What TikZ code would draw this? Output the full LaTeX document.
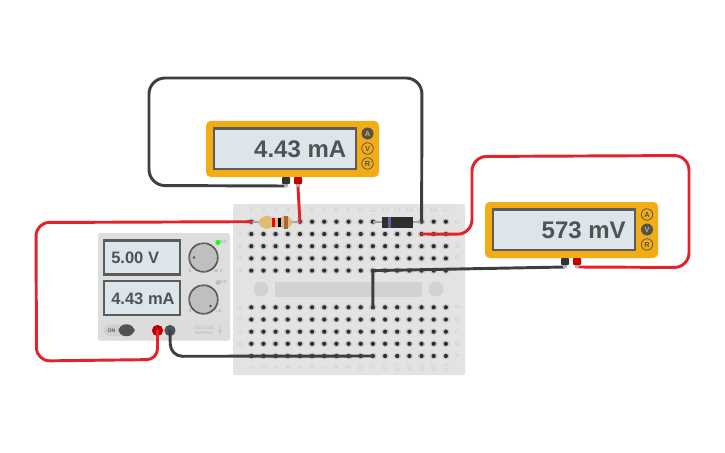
\documentclass[tikz,border=0pt]{standalone}
\usepackage{fontspec}
\setmainfont{Liberation Sans}
\definecolor{wred}{HTML}{E3222A}
\definecolor{wblack}{HTML}{3C3F42}
\definecolor{mmorange}{HTML}{F2AC16}
\definecolor{lcd}{HTML}{DCE5EA}
\definecolor{lcdframe}{HTML}{5A5C5E}
\definecolor{bbody}{HTML}{E3E3E3}
\definecolor{bmark}{HTML}{CDCDCD}
\definecolor{psu}{HTML}{DEDEDE}
\definecolor{txt}{HTML}{505356}
\definecolor{rbody}{HTML}{DDBB7E}
\tikzset{
 wirer/.style={draw=wred,line width=2.2pt,line cap=round},
 wireb/.style={draw=wblack,line width=2.2pt,line cap=round},
 lcdbox/.style={draw=lcdframe,line width=1.8pt,fill=lcd,inner sep=0pt},
 readout/.style={font=\bfseries\fontsize{18}{18}\selectfont,text=txt,anchor=east,inner sep=0pt},
 psuread/.style={font=\bfseries\fontsize{12.4}{12}\selectfont,text=txt,anchor=west,inner sep=0pt},
 modeon/.style={circle,fill=txt,minimum size=9pt,inner sep=0pt,text=mmorange,font=\bfseries\fontsize{5.5}{6}\selectfont},
 modeoff/.style={circle,draw=txt,line width=.55pt,minimum size=8.6pt,inner sep=0pt,text=txt,font=\bfseries\fontsize{5.5}{6}\selectfont},
 bbl/.style={font=\fontsize{5}{5}\selectfont,text=bmark,inner sep=0pt},
 tiny/.style={font=\fontsize{3.2}{3.4}\selectfont,text=gray!80,inner sep=0pt},
 knob/.style={circle,fill=gray!50!white,draw=txt,line width=1.3pt,dash pattern=on .5pt off .3pt,minimum size=21.5pt,inner sep=0pt},
 lead/.style={draw=gray!70,line width=1.5pt},
 term/.style={circle,minimum size=8.4pt,inner sep=0pt},
}
\newcommand{\holerows}[1]{%
 \foreach \c in {1,...,17}{%
  \fill[gray!45] ({251.3+12.16*(\c-1)},#1) ellipse (3.8 and 3.2);
  \fill[black!82] ({251.3+12.16*(\c-1)},#1) circle (2.1);
 }}
\begin{document}
\begin{tikzpicture}[x=0.75pt,y=-0.75pt]
\useasboundingbox (0,0) rectangle (725,453);
\fill[white] (0,0) rectangle (725,453);
% breadboard
\fill[bbody,rounded corners=1.5pt] (233,204) rectangle (465,375);
\foreach \y in {221.7,234,246.2,258.4,270.6,307.3,319.5,331.7,343.8,356}{\holerows{\y}}
\fill[bmark!90!white] (275,282) rectangle (422,297);
\fill[bmark!90!white] (261,289) circle (7.5) (436,289) circle (7.5);
\foreach \c in {1,...,17}{
 \node[bbl] at ({251.3+12.16*(\c-1)},210.5) {\c};
 \node[bbl,rotate=-90] at ({251.3+12.16*(\c-1)},367) {\c};
}
\foreach \l/\y in {J/221.7,I/234,H/246.2,G/258.4,F/270.6,E/307.3,D/319.5,C/331.7,B/343.8,A/356}{
 \node[bbl,rotate=90] at (240,\y) {\l};
 \node[bbl,rotate=-90] at (457.5,\y) {\l};
}
% power supply
\fill[psu,rounded corners=2pt] (98,233) rectangle (230,340.5);
\fill[gray!30,opacity=.3,rounded corners=2pt] (98,320) rectangle (230,340.5);
\node[lcdbox,minimum width=57pt,minimum height=25.5pt] (dispv) at (142,257.5) {};
\node[lcdbox,minimum width=57pt,minimum height=25.5pt] (dispi) at (142,298) {};
\node[psuread] (tv) at (111,258) {5.00 V};
\node[psuread] (ti) at (111,298.5) {4.43 mA};
\node[knob] (k1) at (203.5,257.5) {};
\node[knob] (k2) at (203.5,299.5) {};
\fill[txt] (194,257.5) circle (1.4);
\fill[txt] (210.5,306) circle (1.4);
\fill[green!90!white] (218,242.5) circle (2.6);
\fill[gray!50] (218,282.5) circle (2.6);
\node[tiny] (cv) at (223.5,242.5) {CC};
\node[tiny] (cc) at (223.5,282.5) {CC};
\node[tiny] at (190,271) {0};
\node[tiny] at (218,271) {30 V};
\node[tiny] at (190,311.5) {0};
\node[tiny] at (218,311.5) {1 A};
\fill[gray!38,rounded corners=5pt] (103.5,324.5) rectangle (130,336);
\fill[txt,rounded corners=5.5pt] (118.5,324.3) rectangle (134.5,336.2);
\node[font=\bfseries\fontsize{3.8}{4}\selectfont,text=txt,inner sep=0pt] (on) at (111.5,330.5) {ON};
\node[align=center,text=gray!60,inner sep=0pt,font=\fontsize{3.4}{3.6}\selectfont] (vs) at (204,330.5) {VOLTAGE\\[-.4pt]SUPPLY};
\fill[gray!45] (221,325.5) -- (217.5,331) -- (219.8,331) -- (218.5,336) -- (222.5,329.8) -- (220.2,329.8) -- cycle;
\node[term,fill=red!75!black] (pplus) at (157.5,330.5) {};
\node[term,fill=txt] (pminus) at (170,330.5) {};
% multimeter 1
\fill[mmorange,rounded corners=3.5pt] (206,121) rectangle (379,177);
\node[lcdbox,minimum width=106.5pt,minimum height=30.5pt] (lcdA) at (284.7,148.7) {};
\node[readout] (readA) at (346.5,149) {4.43 mA};
\node[modeon] (a1) at (367.5,133.5) {A};
\node[modeoff] (a2) at (367.5,148.5) {V};
\node[modeoff] (a3) at (367.5,163.5) {R};
% multimeter 2
\fill[mmorange,rounded corners=3.5pt] (485,202) rectangle (658,258);
\node[lcdbox,minimum width=106.5pt,minimum height=30.5pt] (lcdV) at (563.8,229.7) {};
\node[readout] (readV) at (626,230) {573 mV};
\node[modeoff] (v1) at (647,214.5) {A};
\node[modeon] (v2) at (647,229.5) {V};
\node[modeoff] (v3) at (647,244.5) {R};
% connection points
\coordinate (aneg) at (286,186);
\coordinate (apos) at (298,187);
\coordinate (vneg) at (565,267);
\coordinate (vpos) at (577,267);
\coordinate (r1) at (251.3,221.7);
\coordinate (r2) at (299.9,221.7);
\coordinate (d1) at (372.9,221.7);
\coordinate (d2) at (421.6,221.7);
\coordinate (hI) at (421.6,234);
\coordinate (hE) at (372.9,307.3);
\coordinate (hA) at (372.9,356);
% resistor
\draw[lead] (r1) -- (r2);
\fill[rbody] (258,222.3) .. controls (262,215) and (268,214.5) .. (272,217.5) -- (281,217.5) .. controls (285,214.5) and (289,215) .. (293,222.3) .. controls (289,229.5) and (285,230) .. (281,227) -- (272,227) .. controls (268,230) and (262,229.5) .. (258,222.3) -- cycle;
\fill[yellow!60!brown] (264,216) rectangle (265.3,228.5);
\fill[red] (271.8,217.5) rectangle (275,227);
\fill[black] (277.8,217.5) rectangle (281,227);
\fill[brown!85!black] (283.5,216) rectangle (288,228.5);
% diode
\draw[lead] (d1) -- (d2);
\fill[black!82] (382,216.7) rectangle (412.7,227.7);
\fill[gray!75!blue] (388.3,216.7) rectangle (391,227.7);
% wires
\draw[wirer,rounded corners=8pt] (pplus.center) -- (157.5,359.5) [rounded corners=10pt] -- (36.5,361) -- (36,222.5) -- (r1);
\draw[wireb,rounded corners=9pt] (pminus.center) -- (170.5,356.3) -- (hA);
\draw[wirer] (apos) -- (r2);
\draw[wireb,rounded corners=12pt] (aneg) -- (149,185.5) -- (149,78) -- (422,78) -- (d2);
\draw[wirer,rounded corners=11pt] (hI) -- (472,234.3) -- (472,156.5) -- (689,155.5) -- (689,267.5) -- (vpos);
\draw[wireb,rounded corners=1pt] (vneg) -- (372.9,270.6) -- (hE);
% probes
\foreach \x/\y/\c in {286/177/black!80,298/177/red!75!black,565/258/black!80,577/258/red!75!black}{
 \fill[gray!60] (\x-1.6,\y+6) rectangle (\x+1.6,\y+10);
 \fill[\c,rounded corners=.6pt] (\x-4,\y) rectangle (\x+4,\y+7);
}
\end{tikzpicture}
\end{document}
